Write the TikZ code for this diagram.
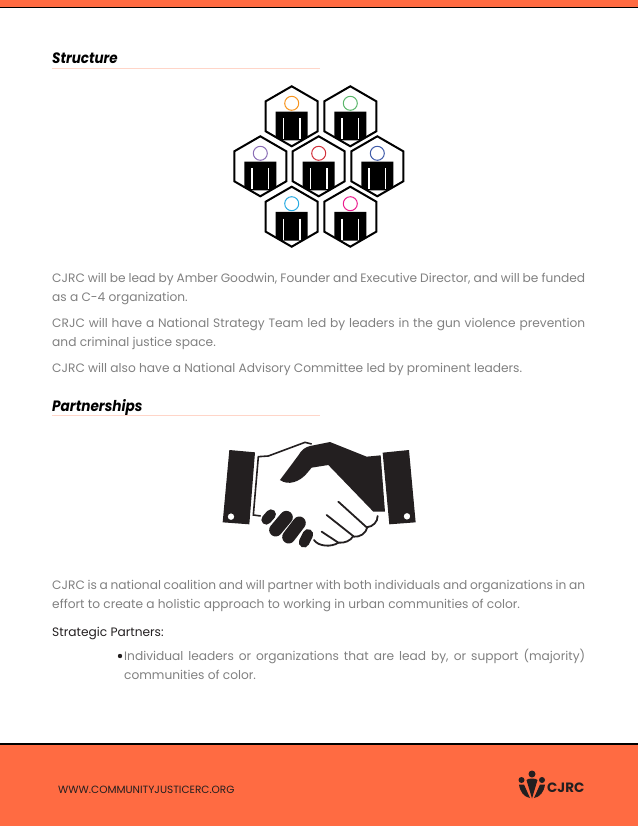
\documentclass[tikz,border=0pt]{standalone}
\usepackage{fontspec}
\setmainfont{Poppins}
\usetikzlibrary{shapes.geometric}
\definecolor{barorange}{HTML}{FF6B42}
\definecolor{bodygray}{HTML}{808080}
\definecolor{inkdark}{HTML}{231F20}
\definecolor{rulepink}{HTML}{FFD5C8}
\tikzset{
  hexcell/.style={regular polygon,regular polygon sides=6,shape border rotate=30,draw=black,line width=2pt,minimum size=60pt,inner sep=0pt,outer sep=0pt},
  bodytext/.style={anchor=base west,inner sep=0pt,text=bodygray,font=\fontsize{12.2}{14}\selectfont},
  headtext/.style={anchor=base west,inner sep=0pt,text=black,font=\fontsize{15}{18}\selectfont\bfseries\itshape},
  fingerline/.style={inkdark,line cap=round},
}
\begin{document}
\begin{tikzpicture}[x=1pt,y=-1pt]
  \useasboundingbox (0,0) rectangle (638,826);

  % bars
  \fill[barorange] (0,0) rectangle (638,7);
  \fill[black] (0,7) rectangle (638,8.5);
  \fill[barorange] (0,744) rectangle (638,826);
  \fill[black] (0,743) rectangle (638,744.5);

  % titles
  \node[headtext] (structure) at (52,64) {\scalebox{.9}[1]{Structure}};
  \draw[rulepink,line width=.7pt] (52,68.5) -- (320,68.5);
  \node[headtext] (partnerships) at (52,411) {\scalebox{.91}[1]{Partnerships}};
  \draw[rulepink,line width=.7pt] (52,415.5) -- (320,415.5);

  % hexagons
  \foreach \cell/\x/\y/\headcol in {a/291.7/116.3/F7941D,b/350.3/116.3/5AB66A,c/260.3/166.3/8A6DB5,d/318.7/166.3/D2303A,e/377.3/166.3/3F5BA9,f/291.7/216.7/29ABE2,g/350.3/216.7/EC1C8E}{
    \definecolor{headcol}{HTML}{\headcol}
    \node[hexcell] (hex\cell) at (\x,\y) {};
    \begin{scope}[shift={(\x,\y)}]
      \draw[headcol,line width=1pt] (0,-13) circle (7);
      \fill[black] (-16,-4.7) -- (16,-4.7) -- (16,20.8) -- (10.5,24) -- (-10.5,24) -- (-16,20.8) -- cycle;
      \draw[white,line width=1.3pt] (-8.3,2) -- (-8.3,23);
      \draw[white,line width=1.3pt] (8.3,2) -- (8.3,23);
    \end{scope}
  }

  % text of the first part
  \node[bodytext] (l1) at (52,282) {\makebox[533pt][s]{CJRC will be lead by Amber Goodwin, Founder and Executive Director, and will be funded}};
  \node[bodytext] (l2) at (52,301) {as a C-4 organization.};
  \node[bodytext] (l3) at (52,327) {\makebox[533pt][s]{CRJC will have a National Strategy Team led by leaders in the gun violence prevention}};
  \node[bodytext] (l4) at (52,346) {and criminal justice space.};
  \node[bodytext] (l5) at (52,372) {CJRC will also have a National Advisory Committee led by prominent leaders.};

  % handshake
  \begin{scope}[shift={(210,430)},x=.3333pt,y=-.3333pt]
    \fill[inkdark,even odd rule] (58,60) -- (135,67) -- (118,283) -- (38,277) -- cycle (63,260) circle (10);
    \fill[inkdark,even odd rule] (518,68) -- (597,60) -- (617,277) -- (538,283) -- cycle (591,259) circle (10);
    \fill[inkdark] (210,150) -- (266,75) .. controls (274,60) and (285,52) .. (300,48) -- (360,36) -- (470,80) -- (512,76) -- (525,245) -- (490,245) -- (355,105) -- (305,113) -- (288,133) .. controls (268,155) and (235,168) .. (210,150) -- cycle;
    \draw[inkdark,line width=1.6pt] (305,42) -- (285,37) -- (175,78) -- (145,80) -- (130,255) -- (152,258);
    \draw[fingerline,line width=10pt] (169,269) -- (183,253);
    \draw[fingerline,line width=13pt] (197,300) -- (229,262);
    \draw[fingerline,line width=13pt] (236,321) -- (268,279);
    \draw[fingerline,line width=10.5pt] (282,337) -- (294,313);
    \draw[fingerline,line width=1.8pt] (385,215) -- (470,292) .. controls (490,290) and (503,275) .. (503,258);
    \draw[fingerline,line width=1.8pt] (350,255) -- (432,320) .. controls (450,322) and (468,310) .. (472,292);
    \draw[fingerline,line width=1.8pt] (335,305) -- (385,338) .. controls (405,340) and (422,332) .. (430,318);
    \draw[fingerline,line width=1.8pt] (312,330) .. controls (325,350) and (365,352) .. (385,338);
  \end{scope}

  % text of the second part
  \node[bodytext] (l6) at (52,589) {\makebox[533pt][s]{CJRC is a national coalition and will partner with both individuals and organizations in an}};
  \node[bodytext] (l7) at (52,608) {effort to create a holistic approach to working in urban communities of color.};
  \node[bodytext,text=inkdark] (l8) at (52,636) {Strategic Partners:};
  \fill[inkdark] (120,656) circle (2.2);
  \node[bodytext] (l9) at (124,660) {\makebox[461pt][s]{Individual leaders or organizations that are lead by, or support (majority)}};
  \node[bodytext] (l10) at (124,679) {communities of color.};

  % footer
  \node[bodytext,text=inkdark,font=\fontsize{10.5}{12}\selectfont] (site) at (58,793) {WWW.COMMUNITYJUSTICERC.ORG};
  \fill[inkdark] (532,774) circle (3.5);
  \fill[inkdark] (521.5,780) circle (3);
  \fill[inkdark] (542,780) circle (3);
  \fill[inkdark] (526.5,780) .. controls (528,778) and (536,778) .. (537.5,780) -- (532,798.5) -- cycle;
  \fill[inkdark] (519,784.5) -- (524,784.5) -- (530,798) .. controls (524,797) and (520,792) .. (519,784.5) -- cycle;
  \fill[inkdark] (545,784.5) -- (540,784.5) -- (534,798) .. controls (540,797) and (544,792) .. (545,784.5) -- cycle;
  \node[bodytext,text=inkdark,font=\fontsize{13.5}{16}\selectfont\bfseries] (logotext) at (547,792) {CJRC};
\end{tikzpicture}
\end{document}
